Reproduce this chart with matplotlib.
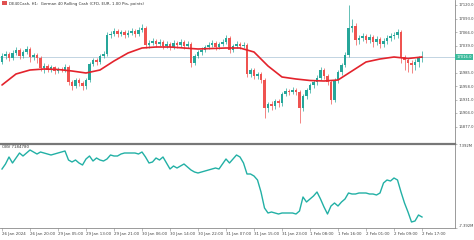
import numpy as np
import matplotlib
matplotlib.use("Agg")
from matplotlib import pyplot as plt

# H1 bars, prices
close = [17018, 17022, 17014, 17024, 17030, 17018, 17026, 17032, 17016, 17020,
         17014, 16994, 16998, 16990, 16996, 16988, 16992, 16990, 16996, 16966,
         16958, 16970, 16964, 16958, 16970, 17002, 17010, 17006, 17018, 17022,
         17060, 17062, 17068, 17062, 17066, 17060, 17064, 17068, 17062, 17070,
         17074, 17040, 17044, 17048, 17042, 17046, 17038, 17042, 17036, 17044,
         17040, 17046, 17038, 17042, 17004, 17018, 17026, 17030, 17036, 17040,
         17044, 17036, 17042, 17046, 17054, 17030, 17038, 17042, 17038, 17040,
         16982, 16990, 16978, 16982, 16970, 16914, 16922, 16918, 16928, 16924,
         16942, 16948, 16946, 16950, 16946, 16914, 16938, 16950, 16960, 16966,
         16974, 16990, 16978, 16966, 16930, 16970, 16986, 17000, 17020, 17074,
         17078, 17050, 17054, 17058, 17050, 17056, 17046, 17052, 17042, 17048,
         17054, 17058, 17060, 17066, 17016, 17010, 17004, 17000, 17006, 17014,
         17016]
high = [17024, 17028, 17026, 17030, 17036, 17034, 17030, 17038, 17036, 17024,
        17024, 17018, 17004, 17002, 17000, 16998, 16996, 16996, 17002, 17000,
        16970, 16974, 16974, 16968, 16974, 17006, 17014, 17014, 17022, 17028,
        17066, 17068, 17074, 17072, 17070, 17070, 17070, 17074, 17072, 17076,
        17082, 17078, 17050, 17054, 17052, 17052, 17050, 17048, 17046, 17050,
        17048, 17052, 17050, 17048, 17046, 17022, 17030, 17036, 17040, 17046,
        17050, 17048, 17046, 17052, 17060, 17058, 17042, 17048, 17046, 17046,
        17044, 16994, 16994, 16986, 16986, 16974, 16926, 16928, 16932, 16932,
        16946, 16954, 16952, 16956, 16954, 16950, 16942, 16954, 16964, 16970,
        16980, 16996, 16994, 16982, 16970, 16974, 16990, 17004, 17026, 17120,
        17092, 17084, 17060, 17064, 17062, 17062, 17060, 17058, 17056, 17054,
        17060, 17064, 17066, 17072, 17070, 17020, 17014, 17010, 17012, 17018,
        17028]
low = [17002, 17012, 17008, 17010, 17020, 17012, 17014, 17022, 17006, 17010,
       17004, 16988, 16984, 16986, 16986, 16982, 16984, 16986, 16986, 16960,
       16950, 16954, 16958, 16950, 16952, 16966, 16998, 17000, 17002, 17014,
       17018, 17054, 17058, 17056, 17058, 17054, 17056, 17060, 17056, 17058,
       17066, 17034, 17034, 17040, 17036, 17038, 17032, 17034, 17030, 17032,
       17034, 17036, 17032, 17034, 16996, 17000, 17014, 17020, 17026, 17032,
       17036, 17030, 17032, 17038, 17042, 17024, 17026, 17034, 17032, 17034,
       16976, 16976, 16972, 16972, 16964, 16894, 16906, 16910, 16912, 16916,
       16918, 16938, 16940, 16942, 16940, 16884, 16908, 16932, 16944, 16954,
       16960, 16970, 16972, 16960, 16922, 16926, 16964, 16980, 16996, 17016,
       17066, 17040, 17042, 17048, 17044, 17044, 17036, 17040, 17034, 17036,
       17042, 17048, 17052, 17054, 17004, 16990, 16986, 16984, 16990, 16996,
       17006]
first_open = 17006

# moving average, sampled every 4 bars
ma_bars = list(range(0, 121, 4))
ma = [16960, 16982, 16990, 16992, 16991, 16988, 16984, 16990, 17008, 17024,
      17034, 17036, 17036, 17034, 17032, 17033, 17034, 17034, 17026, 16998,
      16976, 16972, 16969, 16968, 16970, 16988, 17006, 17012, 17016, 17013,
      17016]

# OBV (thousands)
obv = [2992, 3872, 5104, 4048, 4928, 5808, 5280, 5808, 6336, 5984,
       5632, 5984, 5808, 5632, 5456, 5632, 5808, 5984, 6160, 4576,
       4224, 4576, 4048, 3696, 4752, 5280, 4400, 4928, 4576, 4400,
       4752, 5456, 5280, 5280, 5632, 5808, 5808, 5808, 5808, 5632,
       5984, 5104, 4048, 4224, 4928, 4576, 5104, 4048, 2992, 3520,
       3168, 3520, 3872, 3344, 2816, 2464, 2288, 2464, 2640, 2816,
       2992, 3168, 2992, 3872, 4752, 4048, 4752, 5456, 5104, 4048,
       2112, 2112, 1760, 1056, -1056, -3872, -4752, -4576, -4752, -4928,
       -4752, -4752, -4752, -4752, -4928, -4400, -1936, -2816, -2288, -1760,
       -1056, -2288, -3696, -4928, -3520, -2992, -3520, -2816, -2288, -1232,
       -1408, -1408, -1232, -1232, -1232, -1408, -1408, -1584, -1232, 528,
       1056, 880, 1408, 1056, -1056, -2992, -4576, -6336, -6160, -5104,
       -5456]

date_labels = ["26 Jan 2024", "26 Jan 20:00", "29 Jan 05:00", "29 Jan 13:00",
               "29 Jan 21:00", "30 Jan 06:00", "30 Jan 14:00", "30 Jan 22:00",
               "31 Jan 07:00", "31 Jan 15:00", "31 Jan 23:00", "1 Feb 08:00",
               "1 Feb 16:00", "2 Feb 01:00", "2 Feb 09:00", "2 Feb 17:00"]
price_ticks = [17120, 17093, 17066, 17039, 16985, 16958, 16931, 16904, 16877]

close = np.array(close, dtype=float)
high = np.array(high, dtype=float)
low = np.array(low, dtype=float)
opn = np.r_[first_open, close[:-1]]
x = np.arange(len(close))

GREEN = "#26a69a"
RED = "#ef5350"
AXC = "#8a8a8a"
FS = 2.7

fig = plt.figure(figsize=(4.74, 2.4), dpi=100)
fig.patch.set_facecolor("white")
W = 455 / 474
ax = fig.add_axes([0, 1 - 143 / 240, W, 143 / 240])
ax2 = fig.add_axes([0, 1 - 228 / 240, W, 84 / 240])

xlim = (-2 / 3.5, 453 / 3.5)

# candles
up = close >= opn
cols = np.where(up, GREEN, RED)
ax.vlines(x, low, high, colors=cols, lw=0.5)
ax.bar(x, np.abs(close - opn), bottom=np.minimum(opn, close), width=0.65,
       color=cols, linewidth=0)
ax.plot(ma_bars, ma, color="#e3232c", lw=1.2, solid_capstyle="round")

last = close[-1]
ax.axhline(last, color="#a9c4d6", lw=0.5, zorder=0)

ax.set_xlim(*xlim)
ax.set_ylim(16844, 17130)
ax.yaxis.tick_right()
ax.set_yticks(price_ticks)
ax.set_yticklabels([f"{p:.1f}" for p in price_ticks])
ax.tick_params(axis="y", labelsize=FS, length=1.5, width=0.4, colors=AXC,
               labelcolor="#444444", pad=1)
ax.set_xticks([])
for s in ["top", "left", "bottom"]:
    ax.spines[s].set_visible(False)
ax.spines["right"].set_color(AXC)
ax.spines["right"].set_linewidth(0.6)
ax.text(1.003, last, f"{last:.1f}", transform=ax.get_yaxis_transform(),
        ha="left", va="center", fontsize=FS, color="white",
        bbox=dict(boxstyle="square,pad=0.25", fc="#3dbb9c", ec="none"))
ax.text(0.02, 0.985, "DE40Cash, H1:  German 40 Rolling Cash (CFD, EUR, 1.00 Pts, points)",
        transform=ax.transAxes, fontsize=2.8, color="#333333", va="top", ha="left")
ax.add_patch(plt.Rectangle((0.004, 0.962), 0.012, 0.028, transform=ax.transAxes,
                           fc="#e05050", ec="none", clip_on=False))

# OBV panel
ax2.plot(x, obv, color="#22b0a5", lw=1.0)
ax2.set_xlim(*xlim)
ax2.set_ylim(-7392, 7392)
ax2.yaxis.tick_right()
ax2.set_yticks([7392, -7392])
ax2.set_yticklabels(["7.392M", "-7.392M"])
ax2.tick_params(axis="y", labelsize=FS, length=1.5, width=0.4, colors=AXC,
                labelcolor="#444444", pad=1)
ax2.get_yticklabels()[0].set_va("top")
ax2.get_yticklabels()[1].set_va("bottom")
xt = np.arange(0, 8 * len(date_labels), 8)
ax2.set_xticks(xt)
ax2.set_xticklabels(date_labels, ha="left")
ax2.tick_params(axis="x", labelsize=2.9, length=2, width=0.4, colors=AXC,
                labelcolor="#444444", pad=1)
ax2.spines["left"].set_visible(False)
ax2.spines["top"].set_color("#777777")
ax2.spines["top"].set_linewidth(1.6)
ax2.spines["bottom"].set_color(AXC)
ax2.spines["bottom"].set_linewidth(0.6)
ax2.spines["right"].set_color(AXC)
ax2.spines["right"].set_linewidth(0.6)
ax2.text(0.004, 0.985, "OBV 7184780", transform=ax2.transAxes, fontsize=2.8,
         color="#333333", va="top", ha="left")

fig.savefig("out.png", dpi=100, facecolor="white")
